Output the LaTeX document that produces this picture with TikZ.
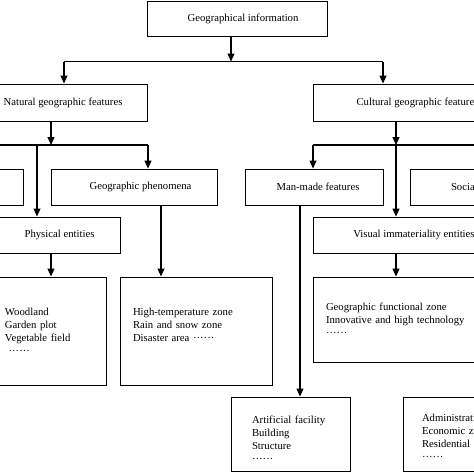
\documentclass[tikz,border=0pt]{standalone}
\usepackage{fontspec}
\setmainfont{Liberation Serif}
\usetikzlibrary{arrows.meta,shadows}
\begin{document}
\begin{tikzpicture}[x=1pt,y=-1pt,
  box/.style={draw, line width=1pt, fill=white, inner sep=0pt,
    font=\fontsize{10.7pt}{13pt}\selectfont,
    drop shadow={shadow xshift=0.8pt, shadow yshift=-0.8pt, fill=black!30, opacity=0.6}},
  listbox/.style={box, align=left},
  arr/.style={line width=1.1pt, -{Triangle[length=8pt,width=7pt]}},
  bus/.style={line width=1.1pt}]
\useasboundingbox (0,0) rectangle (474,474);
\clip (0,0) rectangle (474,474);
\fill[white] (0,0) rectangle (474,474);

% boxes
\node[box, minimum width=180pt, minimum height=35pt] (top) at (237,18.5) {\hspace*{12pt}Geographical information};
\node[box, minimum width=168pt, minimum height=37pt] (natural) at (63,102.5) {Natural geographic features};
\node[box, minimum width=209pt, minimum height=37pt] (cultural) at (417.5,102.5) {Cultural geographic features};

\node[box, minimum width=63pt, minimum height=36pt] (leftcut) at (-8.5,187) {};
\node[box, minimum width=166pt, minimum height=36pt] (phen) at (134,187) {\hspace*{13pt}Geographic phenomena};
\node[box, minimum width=138pt, minimum height=36pt] (manmade) at (314,187) {\hspace*{8pt}Man-made features};
\node[listbox, inner xsep=41pt, text width=68pt, minimum height=36pt] (social) at (485,187) {Social};

\node[box, minimum width=125pt, minimum height=36pt] (physical) at (57.5,235) {\hspace*{4pt}Physical entities};
\node[box, minimum width=202pt, minimum height=36pt] (visual) at (414,235) {Visual immateriality entities};

\node[listbox, inner xsep=25pt, text width=76pt, minimum height=108pt] (wood) at (43,331)
  {Woodland\\Garden plot\\Vegetable field\\\ ······};
\node[listbox, inner xsep=13pt, text width=126pt, minimum height=108pt] (hightemp) at (196,331)
  {High-temperature zone\\Rain and snow zone\\Disaster area ······\rule[-12.5pt]{0pt}{1pt}};
\node[listbox, inner xsep=13pt, text width=191pt, minimum height=85pt] (func) at (421.5,319.5)
  {Geographic functional zone\\Innovative and high technology\\······};
\node[listbox, inner xsep=21pt, text width=77pt, minimum height=74pt] (art) at (290.5,434)
  {\rule{0pt}{17pt}Artificial facility\\Building\\Structure\\······};
\node[listbox, inner xsep=19pt, text width=99pt, minimum height=74pt] (admin) at (471.5,434)
  {\rule{0pt}{13.5pt}Administrative\\Economic zone\\Residential\\······};

% level 1
\coordinate (b1) at (231,61.5);
\coordinate (bL) at (64,61.5);
\coordinate (bR) at (383,61.5);
\draw[arr] (top.south -| b1) -- (b1);
\draw[bus] (bL) -- (bR);
\draw[arr] (bL) -- (bL |- natural.north);
\draw[arr] (bR) -- (bR |- cultural.north);

% natural branch
\coordinate (n1) at (51,145);
\coordinate (nL) at (-10,145);
\coordinate (nR) at (148,145);
\coordinate (nP) at (37,145);
\draw[arr] (n1 |- natural.south) -- (n1);
\draw[bus] (nL) -- (nR);
\draw[arr] (nR) -- (nR |- phen.north);
\draw[arr] (nP) -- (nP |- physical.north);
\coordinate (px) at (161,205);
\draw[arr] (px |- phen.south) -- (px |- hightemp.north);
\coordinate (wx) at (51,253);
\draw[arr] (wx |- physical.south) -- (wx |- wood.north);

% cultural branch
\coordinate (c1) at (396,145);
\coordinate (cL) at (313,145);
\coordinate (cR) at (490,145);
\draw[arr] (c1 |- cultural.south) -- (c1);
\draw[bus] (cL) -- (cR);
\draw[arr] (cL) -- (cL |- manmade.north);
\draw[arr] (c1) -- (c1 |- visual.north);
\coordinate (mx) at (300,205);
\draw[arr] (mx |- manmade.south) -- (mx |- art.north);
\coordinate (vx) at (396,253);
\draw[arr] (vx |- visual.south) -- (vx |- func.north);
\end{tikzpicture}
\end{document}
